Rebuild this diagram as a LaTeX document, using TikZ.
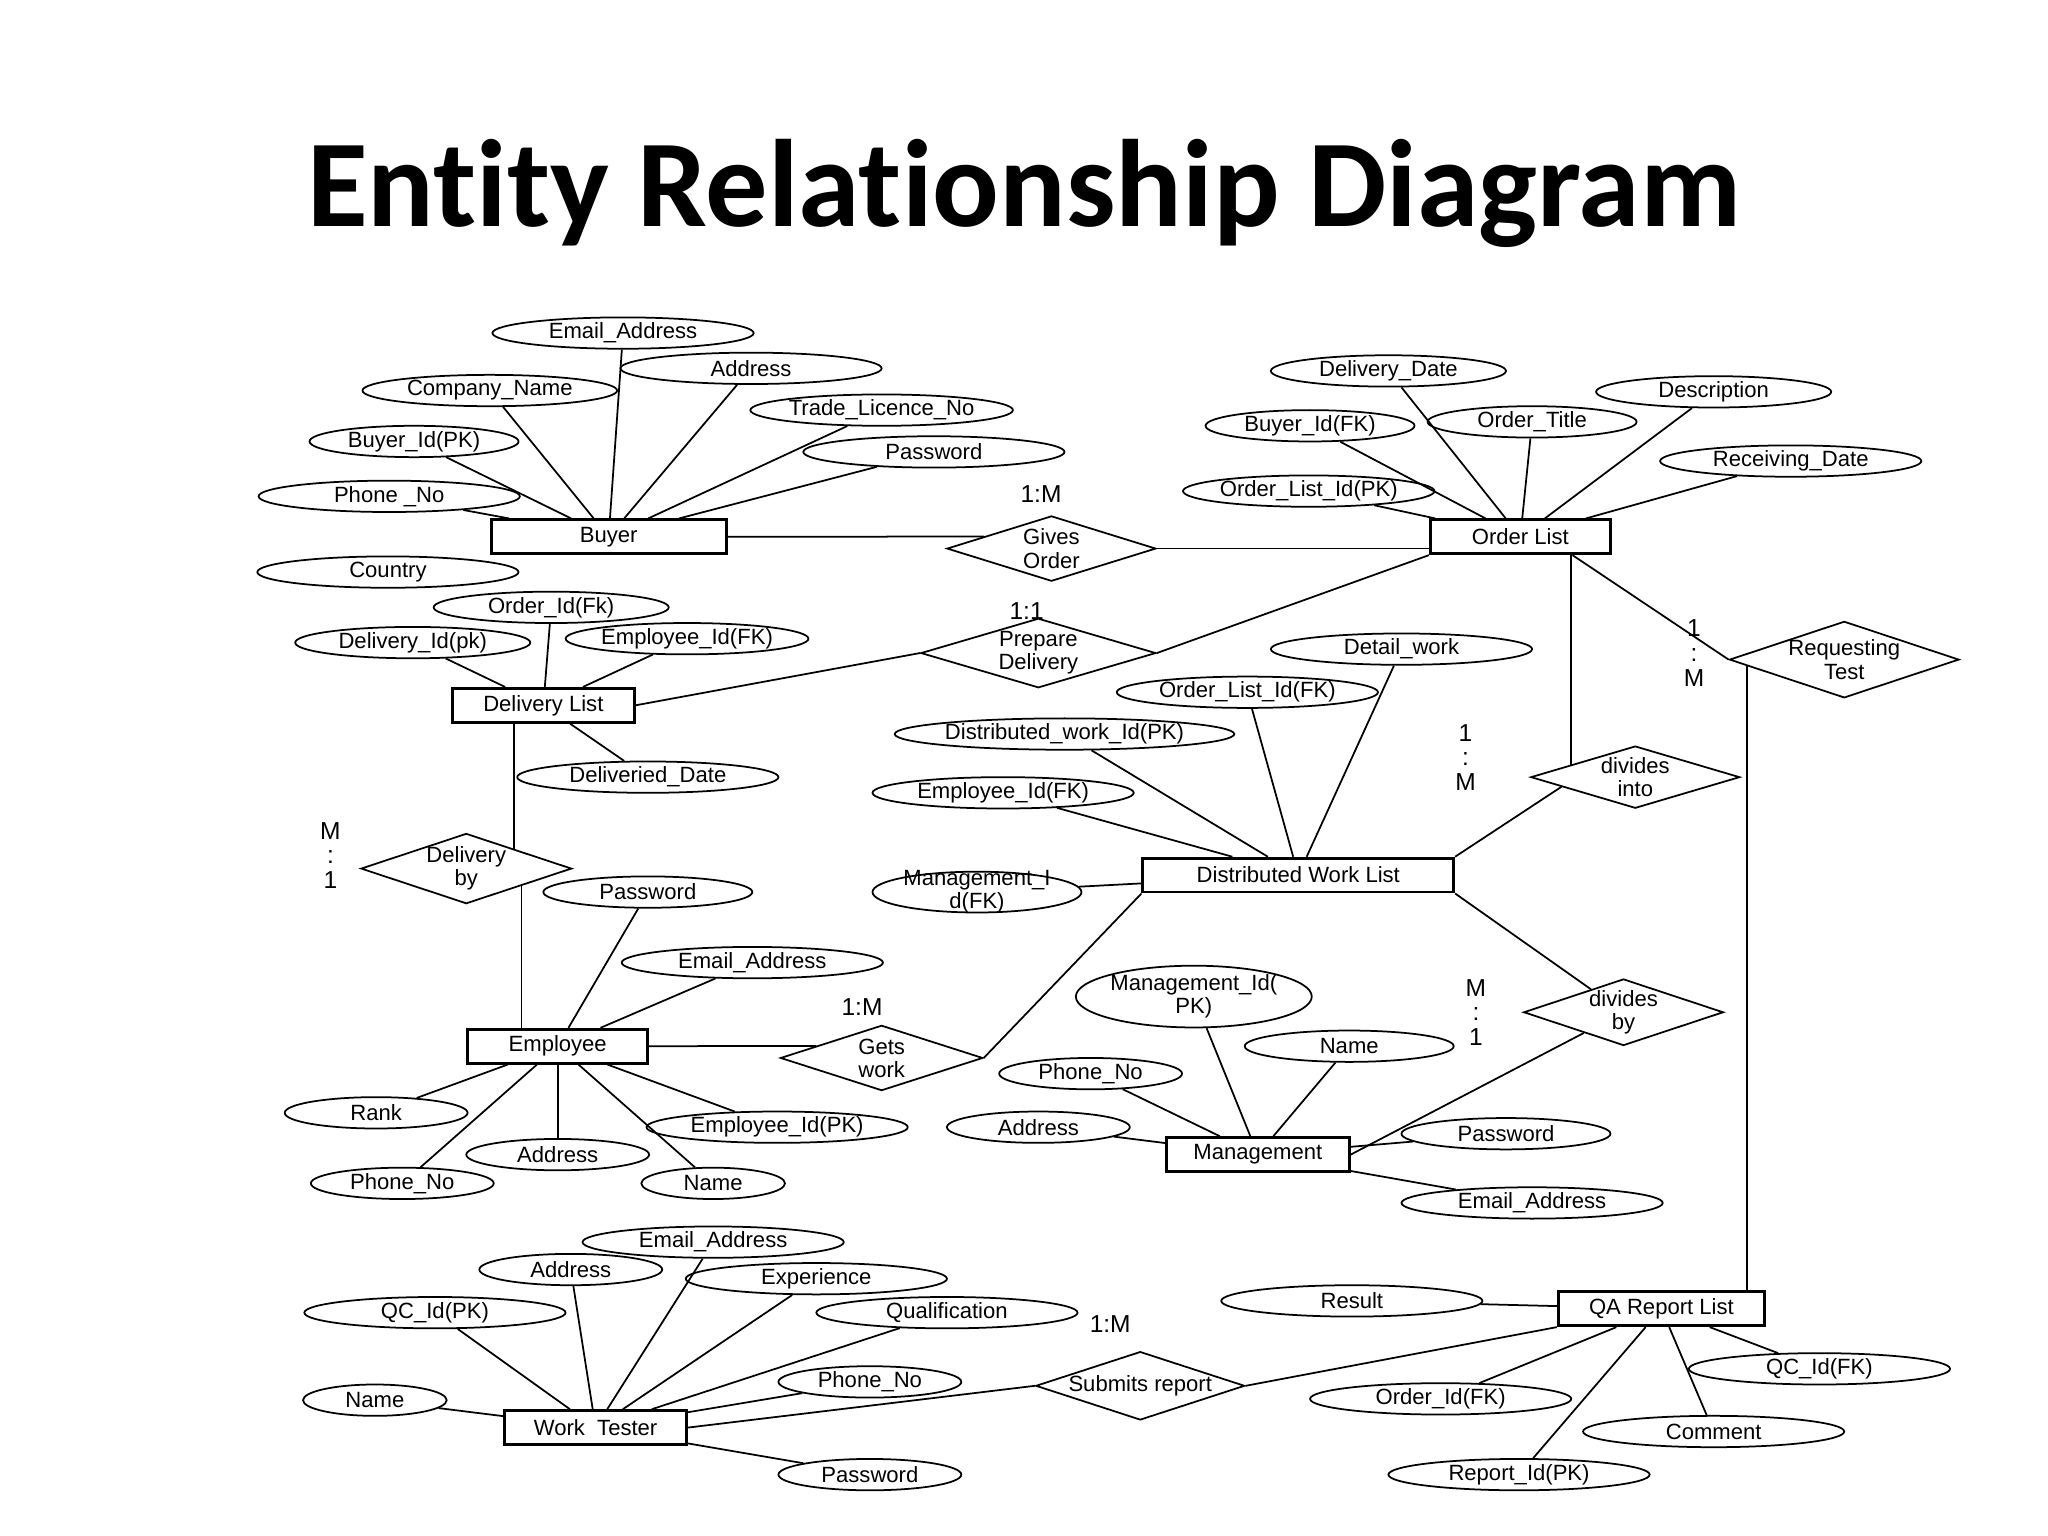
\documentclass[tikz,border=0pt]{standalone}
\usepackage{fontspec}
\setmainfont{Liberation Sans}
\newfontfamily\titlefont[Ligatures=NoCommon]{Carlito}
\usetikzlibrary{shapes.geometric,positioning,calc}
\newlength\un
\setlength\un{0.0131cm}
\tikzstyle{attr}=[ellipse,draw,minimum width=#1\un,minimum height=24\un,inner sep=0pt,align=center]
\tikzstyle{entity}=[rectangle,draw,thick,minimum width=#1\un,minimum height=26\un,inner sep=0pt]
\tikzstyle{rel}=[diamond,draw,aspect=3,minimum width=#1\un,minimum height=50\un,inner sep=0pt,align=center]
\tikzstyle{card}=[align=center,font=\fontsize{7}{7}\selectfont,inner sep=0pt]
\begin{document}
\begin{tikzpicture}[x=\un,y=-\un,font=\fontsize{6.3}{6.6}\selectfont,line width=0.5pt]
\useasboundingbox[fill=white] (0,0) rectangle (1568,1176);
\node[font=\titlefont\bfseries\fontsize{35.5}{36}\selectfont] (title) at (784,148) {Entity Relationship Diagram};
% entities
\node[entity=180] (buyer) at (466,411) {Buyer};
\node[entity=138] (order) at (1164,411) {Order List};
\node[entity=139] (delivery) at (416,540) {Delivery List};
\node[entity=238] (dwl) at (994,670) {Distributed Work List};
\node[entity=138] (employee) at (427,801) {Employee};
\node[entity=140] (management) at (963,884) {Management};
\node[entity=139] (tester) at (456,1093) {Work\ \ Tester};
\node[entity=158] (qa) at (1272,1002) {QA Report List};
% relationships
\node[rel=160] (gives) at (805,420) {Gives\\Order};
\node[rel=180] (prepare) at (795,500) {Prepare\\Delivery};
\node[rel=160,minimum height=52\un] (request) at (1412,505) {Requesting\\Test};
\node[rel=160,minimum height=46\un] (into) at (1252,595) {divides\\into};
\node[rel=135,minimum height=46\un] (divby) at (1243,775) {divides\\by};
\node[rel=155,minimum height=52\un] (delby) at (357,665) {Delivery\\by};
\node[rel=155] (gets) at (675,810) {Gets\\work};
\node[rel=160,minimum height=46\un] (submits) at (873,1061) {Submits report};
% buyer attributes
\node[attr=200] (bEmail) at (477,255) {Email\_Address};
\node[attr=200] (bAddress) at (575,282) {Address};
\node[attr=195] (bCompany) at (375,299) {Company\_Name};
\node[attr=200] (bTrade) at (675,314) {Trade\_Licence\_No};
\node[attr=160] (bId) at (317,338) {Buyer\_Id(PK)};
\node[attr=200] (bPass) at (715,346) {Password};
\node[attr=200] (bPhone) at (298,380) {Phone \_No};
\node[attr=200] (bCountry) at (297,438) {Country};
% order list attributes
\node[attr=180] (oDate) at (1063,284) {Delivery\_Date};
\node[attr=160] (oBuyer) at (1003,326) {Buyer\_Id(FK)};
\node[attr=160] (oTitle) at (1173,323) {Order\_Title};
\node[attr=180] (oDesc) at (1312,300) {Description};
\node[attr=200] (oRecv) at (1371,353) {Receiving\_Date};
\node[attr=175] (oId) at (1002,376) {Order\_List\_Id(PK)};
% delivery list attributes
\node[attr=180] (dOrder) at (422,465) {Order\_Id(Fk)};
\node[attr=180] (dId) at (316,492) {Delivery\_Id(pk)};
\node[attr=180] (dEmp) at (526,489) {Employee\_Id(FK)};
\node[attr=200] (dDate) at (496,595) {Deliveried\_Date};
% distributed work list attributes
\node[attr=200] (wDetail) at (1073,497) {Detail\_work};
\node[attr=200] (wOrder) at (955,530) {Order\_List\_Id(FK)};
\node[attr=260] (wId) at (815,562) {Distributed\_work\_Id(PK)};
\node[attr=200] (wEmp) at (768,607) {Employee\_Id(FK)};
\node[attr=160,minimum height=28\un,inner sep=-2pt] (wMan) at (748,683) {Management\_I\\d(FK)};
% employee attributes
\node[attr=160] (ePass) at (496,683) {Password};
\node[attr=200] (eEmail) at (576,737) {Email\_Address};
\node[attr=140] (eRank) at (288,852) {Rank};
\node[attr=140] (eAddress) at (427,884) {Address};
\node[attr=140] (ePhone) at (308,906) {Phone\_No};
\node[attr=200] (eId) at (595,863) {Employee\_Id(PK)};
\node[attr=110] (eName) at (546,906) {Name};
% management attributes
\node[attr=180,minimum height=34\un] (mId) at (914,763) {Management\_Id(\\PK)};
\node[attr=160] (mName) at (1033,801) {Name};
\node[attr=140] (mPhone) at (835,822) {Phone\_No};
\node[attr=140] (mAddress) at (795,863) {Address};
\node[attr=160] (mPass) at (1153,868) {Password};
\node[attr=200] (mEmail) at (1173,921) {Email\_Address};
% work tester attributes
\node[attr=200] (tEmail) at (546,951) {Email\_Address};
\node[attr=140] (tAddress) at (437,972) {Address};
\node[attr=200] (tExp) at (625,979) {Experience};
\node[attr=200] (tId) at (333,1005) {QC\_Id(PK)};
\node[attr=200] (tQual) at (725,1005) {Qualification};
\node[attr=140] (tPhone) at (666,1058) {Phone\_No};
\node[attr=110] (tName) at (287,1072) {Name};
\node[attr=140] (tPass) at (666,1129) {Password};
% qa report attributes
\node[attr=200] (qResult) at (1035,996) {Result};
\node[attr=200] (qQc) at (1393,1048) {QC\_Id(FK)};
\node[attr=200] (qOrder) at (1103,1071) {Order\_Id(FK)};
\node[attr=200] (qComment) at (1312,1096) {Comment};
\node[attr=200] (qId) at (1163,1129) {Report\_Id(PK)};
% cardinalities
\node[card] (c1) at (797,378) {1:M};
\node[card] (c2) at (786,468) {1:1};
\node[card] (c3) at (1297,500) {1\\:\\M};
\node[card] (c4) at (1122,580) {1\\:\\M};
\node[card] (c5) at (1130,775) {M\\:\\1};
\node[card] (c6) at (253,655) {M\\:\\1};
\node[card] (c7) at (660,771) {1:M};
\node[card] (c8) at (850,1014) {1:M};
% attribute links
\foreach \a in {bEmail,bAddress,bCompany,bTrade,bId,bPass,bPhone}
  \draw (\a) -- (buyer);
\foreach \a in {oDate,oBuyer,oTitle,oDesc,oRecv,oId}
  \draw (\a) -- (order);
\foreach \a in {dOrder,dId,dEmp,dDate}
  \draw (\a) -- (delivery);
\foreach \a in {wDetail,wOrder,wId,wEmp,wMan}
  \draw (\a) -- (dwl);
\foreach \a in {ePass,eEmail,eRank,eAddress,ePhone,eId,eName}
  \draw (\a) -- (employee);
\foreach \a in {mId,mName,mPhone,mAddress,mPass,mEmail}
  \draw (\a) -- (management);
\foreach \a in {tEmail,tAddress,tExp,tId,tQual,tPhone,tName,tPass}
  \draw (\a) -- (tester);
\foreach \a in {qResult,qQc,qOrder,qComment,qId}
  \draw (\a) -- (qa);
% relationship links
\coordinate (g1) at ($(gives.west)!0.36!(gives.north)$);
\draw (buyer.east) -- (g1);
\draw (gives.east) -- (order.west |- gives.east);
\draw (delivery.east) -- (prepare.west);
\draw (prepare.east) -- (order.south west);
\draw (order.south) ++(40\un,0) coordinate (o1) -- (request.west);
\coordinate (i1) at ($(into.west)!0.39!(into.north)$);
\draw (i1 |- order.south) -- (i1);
\draw ($(into.west)!0.3!(into.south)$) -- (dwl.north east);
\coordinate (r1) at ($(request.west)!0.16!(request.south)$);
\draw (r1) -- (r1 |- qa.north);
\draw (dwl.south east) -- (divby);
\draw (divby) -- (management.east);
\coordinate (d1) at ($(delby.north)!0.45!(delby.east)$);
\draw (d1 |- delivery.south) -- (d1);
\coordinate (d2) at ($(delby.south)!0.52!(delby.east)$);
\draw (d2) -- (d2 |- employee.north);
\coordinate (e1) at ($(gets.west)!0.36!(gets.north)$);
\draw (employee.east) -- (e1);
\draw (gets.east) -- (dwl.south west);
\draw (tester.east) -- (submits.west);
\draw (submits.east) -- (qa.south west);
\end{tikzpicture}
\end{document}
